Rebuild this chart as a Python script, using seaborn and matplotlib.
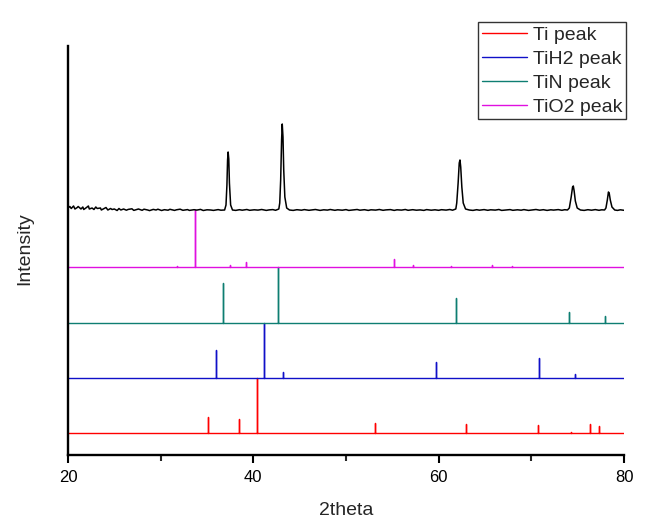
import numpy as np
import pandas as pd
import matplotlib
matplotlib.use('Agg')
import matplotlib.pyplot as plt
import seaborn as sns

# Reference stick patterns (2theta position, relative height)
ti_pos = [35.1, 38.5, 40.35, 53.1, 63.0, 70.75, 74.3, 76.3, 77.3]
ti_int = [16, 14, 55, 10, 9, 8, 1, 9, 7]

tih2_pos = [36.0, 41.15, 43.2, 59.7, 70.85, 74.75]
tih2_int = [28, 55, 6, 16, 20, 4]

tin_pos = [36.75, 42.7, 61.9, 74.1, 78.0]
tin_int = [40, 56, 25, 11, 7]

tio2_pos = [31.8, 33.7, 37.45, 39.2, 55.2, 57.25, 61.35, 65.8, 67.95]
tio2_int = [1, 57, 2, 5, 8, 2, 1, 2, 1]

# vertical offsets of each stack
offsets = {'Ti': 22, 'TiH2': 77, 'TiN': 132, 'TiO2': 188}

# measured pattern (2theta, intensity incl. offset)
meas_x = [20.0, 20.2, 20.35, 20.6, 20.75, 21.0, 21.1, 21.4, 21.6, 21.7, 22.0, 22.2, 22.3,
          22.6, 22.8, 23.0, 23.15, 23.5, 23.6, 23.9, 24.1, 24.3, 24.6, 24.75, 25.0, 25.3,
          25.5, 25.7, 26.0, 26.3, 26.5, 26.9, 27.1, 27.4, 27.6, 28.0, 28.2, 28.6, 28.8,
          29.2, 29.5, 29.7, 30.1, 30.4, 30.8, 31.0, 31.5, 31.7, 32.1, 32.4, 32.9, 33.1,
          33.6, 33.9, 34.3, 34.6, 35.0, 35.4, 35.7, 36.2, 36.5, 36.9,
          37.05, 37.15, 37.22, 37.28, 37.35, 37.42, 37.55, 37.75,
          38.1, 38.5, 38.8, 39.3, 39.6, 40.1, 40.5, 40.9, 41.4, 41.7, 42.1, 42.4, 42.75,
          42.85, 42.95, 43.05, 43.12, 43.2, 43.28, 43.4, 43.6, 43.9,
          44.3, 44.7, 45.2, 45.5, 46.0, 46.4, 46.7, 47.2, 47.6, 48.0, 48.3, 48.8, 49.1,
          49.6, 50.0, 50.3, 50.8, 51.2, 51.5, 52.0, 52.4, 52.7, 53.2, 53.6, 54.0, 54.3,
          54.8, 55.2, 55.5, 56.0, 56.4, 56.7, 57.2, 57.6, 58.0, 58.4, 58.7, 59.2, 59.6,
          60.0, 60.3, 60.8, 61.2, 61.5, 61.85,
          61.95, 62.1, 62.22, 62.3, 62.38, 62.5, 62.65, 62.9, 63.3,
          63.7, 64.1, 64.4, 64.9, 65.3, 65.6, 66.1, 66.5, 66.8, 67.3, 67.7, 68.0, 68.5,
          68.9, 69.2, 69.7, 70.1, 70.5, 70.9, 71.3, 71.7, 72.1, 72.4, 72.9, 73.3, 73.6, 73.9,
          74.1, 74.3, 74.45, 74.53, 74.62, 74.75, 74.95, 75.3,
          75.7, 76.1, 76.5, 76.9, 77.3, 77.6, 77.9,
          78.05, 78.2, 78.32, 78.4, 78.52, 78.7, 79.0, 79.3, 79.6, 80.0]
meas_y = [247, 248.5, 246.5, 249, 246, 247.5, 248.5, 246, 248, 245.5, 247.5, 249, 246,
          247, 245.5, 248, 246.5, 247, 245, 246.5, 247.5, 245, 246.5, 245.5, 246, 244.5,
          246.5, 245, 246, 244.8, 245.6, 246.2, 244.6, 245.4, 246, 244.7, 245.8, 245, 244.4,
          245.6, 245, 245.8, 244.5, 245.3, 244.8, 245.7, 244.6, 245.2, 245.8, 244.7, 245.4,
          244.6, 245.3, 244.9, 245.6, 244.5, 245.2, 245, 244.6, 245.4, 244.8, 245,
          250, 270, 295, 303, 296, 272, 250, 245,
          244.6, 245.3, 244.8, 245.5, 244.7, 245.2, 244.9, 245.5, 244.6, 245.1, 245.4, 244.7, 246,
          252, 275, 315, 331, 318, 285, 258, 247, 245,
          244.6, 245.3, 244.8, 245.4, 244.7, 245.1, 245.5, 244.6, 245.2, 244.9, 245.5, 244.7, 245.2,
          244.8, 245.4, 244.6, 245.1, 245.5, 244.8, 245.3, 244.6, 245.2, 244.9, 245.5, 244.7, 245.1,
          245.4, 244.6, 245.2, 244.9, 245.5, 244.7, 245.3, 244.8, 245.1, 244.6, 245.4, 244.8, 245.2,
          244.7, 245.3, 244.9, 245.5, 244.8, 246,
          252, 272, 292, 295, 288, 268, 252, 246, 245,
          244.6, 245.3, 244.8, 245.4, 244.7, 245.2, 244.9, 245.5, 244.6, 245.1, 245.4, 244.7, 245.2,
          244.8, 245.4, 244.6, 245.1, 245.5, 244.8, 245.3, 244.6, 245.2, 244.9, 245.4, 244.7, 245.3, 245,
          247, 258, 268, 269, 264, 254, 247, 245,
          244.6, 245.3, 244.8, 245.4, 244.7, 245.2, 245,
          247, 255, 263, 262, 255, 248, 245, 244.6, 245.2, 244.7]

phases = ['Ti', 'TiH2', 'TiN', 'TiO2']
labels = ['Ti peak', 'TiH2 peak', 'TiN peak', 'TiO2 peak']
colors = ['#FF0000', '#1010C8', '#0E7E72', '#E010E0']
stick_data = [(ti_pos, ti_int), (tih2_pos, tih2_int), (tin_pos, tin_int), (tio2_pos, tio2_int)]


def stick_line(pos, inten, base):
    """Baseline with vertical sticks as one continuous line"""
    xs, ys = [20.0], [base]
    for p, h in zip(pos, inten):
        xs += [p, p, p]
        ys += [base, base + h, base]
    xs.append(80.0)
    ys.append(base)
    return pd.DataFrame({'x': xs, 'y': ys})


sns.set_style('ticks')
plt.rcParams['font.family'] = ['Liberation Sans', 'DejaVu Sans']

fig = plt.figure(figsize=(6.6, 5.3), dpi=100)
ax = fig.add_axes([68 / 660, 75 / 530, 556 / 660, 409 / 530])

for ph, lab, col, (pos, inten) in zip(phases, labels, colors, stick_data):
    sns.lineplot(data=stick_line(pos, inten, offsets[ph]), x='x', y='y', sort=False,
                 estimator=None, color=col, lw=1.0, label=lab, ax=ax)

meas = pd.DataFrame({'x': meas_x, 'y': meas_y})
sns.lineplot(data=meas, x='x', y='y', sort=False, estimator=None,
             color='black', lw=1.1, label='_nolegend_', ax=ax)

ax.set_xlim(20, 80)
ax.set_ylim(0, 409)
ax.set_xticks([20, 40, 60, 80])
ax.set_xticks([30, 50, 70], minor=True)
ax.set_yticks([])
ax.tick_params(axis='x', which='major', direction='out', length=6, width=1.5,
               labelsize=12, pad=5, colors='black')
ax.tick_params(axis='x', which='minor', direction='out', length=4, width=1.5)
for side in ['top', 'right']:
    ax.spines[side].set_visible(False)
for side in ['left', 'bottom']:
    ax.spines[side].set_linewidth(1.7)
    ax.spines[side].set_color('black')

ax.set_xlabel('2theta', fontsize=14)
ax.set_ylabel('Intensity', fontsize=14)
ax.xaxis.set_label_coords(0.5, -0.115)
ax.yaxis.set_label_coords(-0.062, 0.505)

leg = ax.legend(loc='upper right', bbox_to_anchor=(626 / 660, 508 / 530),
                bbox_transform=fig.transFigure, fontsize=14, frameon=True,
                fancybox=False, edgecolor='black', borderpad=0.2, labelspacing=0.33,
                handlelength=2.3, handletextpad=0.3, borderaxespad=0)
leg.get_frame().set_linewidth(1.0)

fig.savefig('out.png', dpi=100)
